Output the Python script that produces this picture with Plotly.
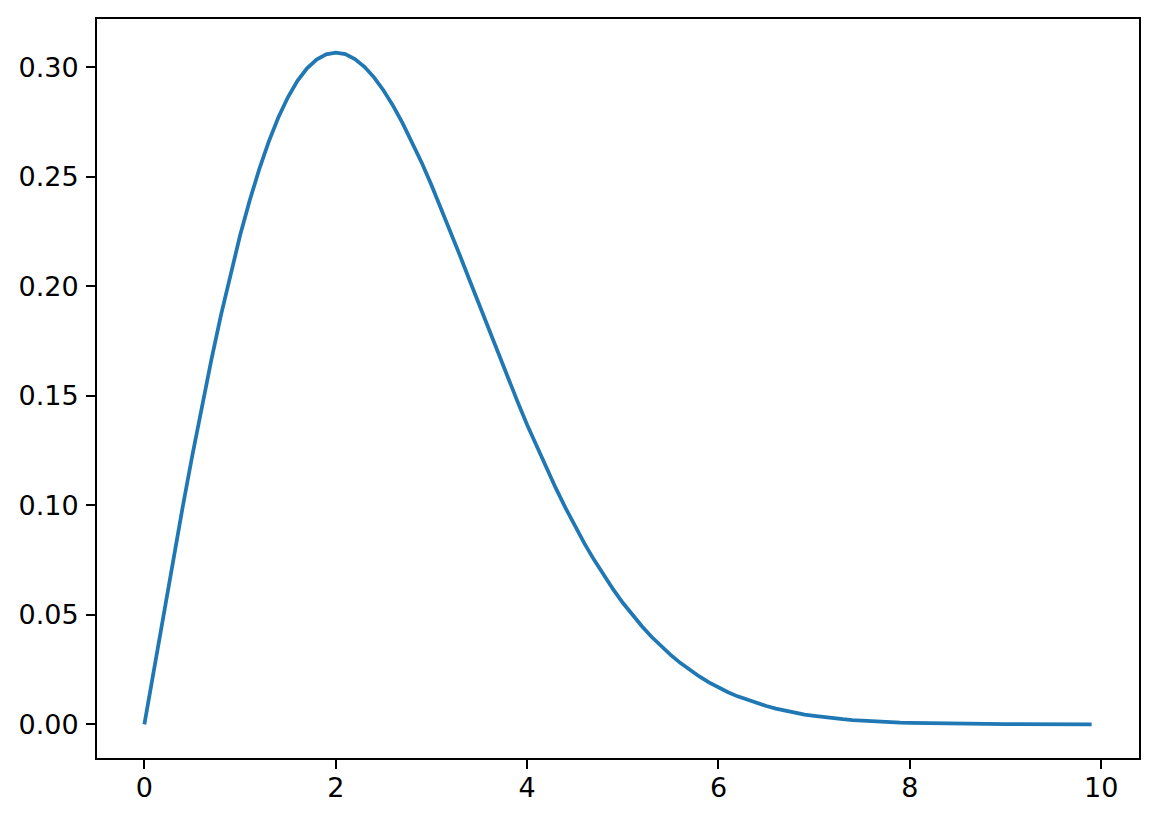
import plotly.graph_objects as go

# x grid of the sampled curve (0.0 .. 9.9)
x_vals = [
    0.0, 0.1, 0.2, 0.3, 0.4, 0.5, 0.6, 0.7, 0.8, 0.9,
    1.0, 1.1, 1.2, 1.3, 1.4, 1.5, 1.6, 1.7, 1.8, 1.9,
    2.0, 2.1, 2.2, 2.3, 2.4, 2.5, 2.6, 2.7, 2.8, 2.9,
    3.0, 3.1, 3.2, 3.3, 3.4, 3.5, 3.6, 3.7, 3.8, 3.9,
    4.0, 4.1, 4.2, 4.3, 4.4, 4.5, 4.6, 4.7, 4.8, 4.9,
    5.0, 5.1, 5.2, 5.3, 5.4, 5.5, 5.6, 5.7, 5.8, 5.9,
    6.0, 6.1, 6.2, 6.3, 6.4, 6.5, 6.6, 6.7, 6.8, 6.9,
    7.0, 7.1, 7.2, 7.3, 7.4, 7.5, 7.6, 7.7, 7.8, 7.9,
    8.0, 8.1, 8.2, 8.3, 8.4, 8.5, 8.6, 8.7, 8.8, 8.9,
    9.0, 9.1, 9.2, 9.3, 9.4, 9.5, 9.6, 9.7, 9.8, 9.9,
]

# values
y_vals = [
    0.0000, 0.0252, 0.0503, 0.0750, 0.0991, 0.1225, 0.1450, 0.1664, 0.1867, 0.2056,
    0.2231, 0.2390, 0.2533, 0.2660, 0.2770, 0.2862, 0.2937, 0.2994, 0.3034, 0.3058,
    0.3066, 0.3059, 0.3036, 0.3001, 0.2953, 0.2893, 0.2823, 0.2743, 0.2656, 0.2562,
    0.2462, 0.2357, 0.2249, 0.2138, 0.2026, 0.1913, 0.1801, 0.1689, 0.1580, 0.1473,
    0.1368, 0.1268, 0.1170, 0.1078, 0.0989, 0.0905, 0.0825, 0.0751, 0.0681, 0.0616,
    0.0555, 0.0499, 0.0448, 0.0400, 0.0357, 0.0317, 0.0281, 0.0248, 0.0219, 0.0192,
    0.0168, 0.0147, 0.0128, 0.0112, 0.0097, 0.0084, 0.0072, 0.0062, 0.0053, 0.0045,
    0.0039, 0.0033, 0.0028, 0.0024, 0.0020, 0.0017, 0.0014, 0.0012, 0.0010, 0.0008,
    0.0007, 0.0006, 0.0005, 0.0004, 0.0003, 0.0003, 0.0002, 0.0002, 0.0001, 0.0001,
    0.0001, 0.0001, 0.0001, 0.0000, 0.0000, 0.0000, 0.0000, 0.0000, 0.0000, 0.0000,
]

x_ticks = [0, 2, 4, 6, 8, 10]
y_ticks = [0.00, 0.05, 0.10, 0.15, 0.20, 0.25, 0.30]

fig = go.Figure()
fig.add_trace(go.Scatter(x=x_vals, y=y_vals, mode="lines",
                         line=dict(color="#1f77b4", width=3.75)))

# matplotlib style 5% margins around the data
xpad = (max(x_vals) - min(x_vals)) * 0.05
ypad = (max(y_vals) - min(y_vals)) * 0.05

axis_style = dict(showgrid=False, zeroline=False, showline=True, linecolor="black",
                  linewidth=2, mirror=True, ticks="outside", ticklen=9, tickwidth=2,
                  tickcolor="black", automargin=False,
                  tickfont=dict(family="DejaVu Sans", size=27, color="black"))

fig.update_xaxes(range=[min(x_vals) - xpad, max(x_vals) + xpad],
                 tickvals=x_ticks, ticklabelstandoff=-4, **axis_style)
fig.update_yaxes(range=[min(y_vals) - ypad, max(y_vals) + ypad],
                 tickvals=y_ticks, tickformat=".2f", ticklabelstandoff=2, **axis_style)

# the page body has an 8px margin, so size and margins are trimmed for it
fig.update_layout(width=1142, height=806, showlegend=False,
                  plot_bgcolor="white", paper_bgcolor="white",
                  margin=dict(l=89, r=11, t=11, b=56))

fig.write_html("out.html")
